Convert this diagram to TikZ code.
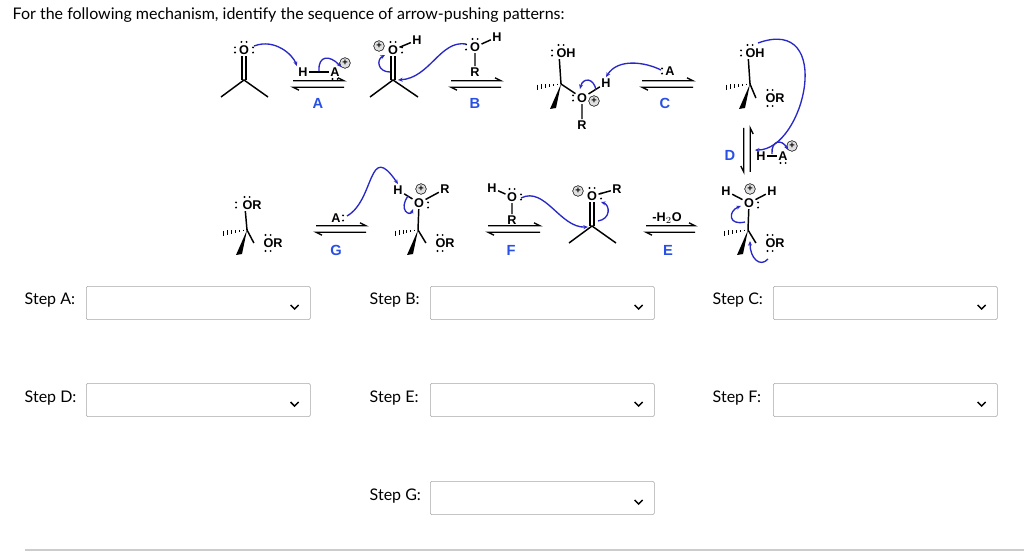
\documentclass[tikz,border=0pt]{standalone}
\usepackage{fontspec}
\setmainfont{Lato}
\newfontfamily\chemf{Liberation Sans}
\usetikzlibrary{arrows.meta,calc}
\definecolor{pb}{RGB}{40,40,200}
\definecolor{lb}{RGB}{40,80,230}
\newcommand\lph[1]{\fill[shift={(#1)}] (-2.6,0) circle (1.1) (2.6,0) circle (1.1);}
\newcommand\lpv[1]{\fill[shift={(#1)}] (0,-2.6) circle (1.1) (0,2.6) circle (1.1);}
\newcommand\eqarr[3]{%
  \coordinate (#1a) at (#2); \coordinate (#1b) at (#3);
  \draw[line width=1pt] ([yshift=2.4]#1a) -- ([yshift=2.4]#1b) -- ++(-6,-3);
  \draw[line width=1pt] ([yshift=-2.4]#1b) -- ([yshift=-2.4]#1a) -- ++(6,3);}
\begin{document}
\begin{tikzpicture}[x=0.75pt,y=-0.75pt,
  atm/.style={font=\chemf\bfseries\fontsize{9.5}{10}\selectfont,inner sep=1pt},
  lab/.style={font=\chemf\bfseries\fontsize{11}{12}\selectfont,text=lb},
  chg/.style={circle,draw,fill=gray!25,inner sep=0pt,minimum size=8pt,font=\chemf\bfseries\fontsize{7}{7}\selectfont},
  bond/.style={line width=1.1pt},
  ca/.style={pb,line width=1pt,-{Stealth[open,length=3.5pt,width=3pt]}},
  stp/.style={font=\fontsize{12}{14}\selectfont,anchor=west},
  box/.style={draw=gray!70,rounded corners=1pt,minimum width=168pt,minimum height=25pt,anchor=west}]
\useasboundingbox (0,0) rectangle (1024,552);
\fill[white] (0,0) rectangle (1024,552);
\node[anchor=west,font=\fontsize{12}{14}\selectfont] (title) at (8,15) {For the following mechanism, identify the sequence of arrow-pushing patterns:};
% ---------- molecule 1
\node[atm] (o1) at (244,50) {O}; \lph{244,42} \lpv{235,50} \lpv{253,50}
\coordinate (c1) at (244,80);
\draw[bond] ([xshift=-1.6]o1.south) -- ([xshift=-1.6]c1) ([xshift=1.6]o1.south) -- ([xshift=1.6]c1);
\draw[bond] (221,97) -- (c1) -- (268,97);
% arrow A
\eqarr{A}{293,84}{344,84}
\node[atm] (hA) at (303,72) {H}; \node[atm] (aA) at (335,72) {A}; \lph{335,79}
\draw[bond] (hA) -- (aA); \node[chg] (pA) at (345,63) {+};
\node[lab] (lA) at (318,103) {A};
% molecule 2
\node[atm] (o2) at (393,50) {O}; \lph{393,42} \lpv{402,50}
\node[chg] (p2) at (379,46) {+}; \node[atm] (h2) at (417,40) {H};
\draw[bond] (o2) -- (h2);
\coordinate (c2) at (393,80);
\draw[bond] ([xshift=-1.6]o2.south) -- ([xshift=-1.6]c2) ([xshift=1.6]o2.south) -- ([xshift=1.6]c2);
\draw[bond] (370,97) -- (c2) -- (418,97);
% arrow B
\eqarr{B}{451,84}{501,84}
\node[atm] (oB) at (475,47) {O}; \lph{475,39} \lpv{466,47}
\node[atm] (hB) at (497,37) {H}; \node[atm] (rB) at (475,72) {R};
\draw[bond] (oB) -- (hB) (oB) -- (rB);
\node[lab] (lB) at (475,103) {B};
% molecule 3
\node[atm] (o3) at (566,53) {OH}; \lph{561,45} \lpv{552,53}
\coordinate (c3) at (561,84);
\draw[bond] (c3) -- ([xshift=-5]o3.south);
\foreach \i in {0,...,6}{\draw[line width=0.6pt] ($(c3)!\i/7!(534,88)$) ++(0,-0.5-\i*0.4) -- ++(0,1+\i*0.8);}
\fill (c3) -- (550,109) -- (556,108) -- cycle;
\node[atm] (o3b) at (582,98) {O}; \lpv{573,98} \node[chg] (p3) at (594,101) {+};
\node[atm] (h3) at (606,83) {H}; \node[atm] (r3) at (582,125) {R};
\draw[bond] (c3) -- (o3b) (o3b) -- (h3) (o3b) -- (r3);
% arrow C
\eqarr{C}{642,84}{693,84}
\node[atm] (aC) at (670,71) {A}; \lpv{662,71}
\node[lab] (lC) at (665,103) {C};
% molecule 4
\node[atm] (o4) at (755,53) {OH}; \lph{750,45} \lpv{741,53}
\coordinate (c4) at (750,84);
\draw[bond] (c4) -- ([xshift=-5]o4.south);
\foreach \i in {0,...,6}{\draw[line width=0.6pt] ($(c4)!\i/7!(723,88)$) ++(0,-0.5-\i*0.4) -- ++(0,1+\i*0.8);}
\fill (c4) -- (739,109) -- (745,108) -- cycle;
\node[atm] (o4b) at (775,98) {OR}; \lph{770,90} \lph{770,106}
\draw[bond] (c4) -- ([xshift=-6]o4b.west|-o4b.center);
% arrow D vertical
\coordinate (Da) at (747,128); \coordinate (Db) at (747,172);
\draw[line width=1pt] ([xshift=-2.4]Da) -- ([xshift=-2.4]Db) -- ++(-3,-6);
\draw[line width=1pt] ([xshift=2.4]Db) -- ([xshift=2.4]Da) -- ++(3,6);
\node[lab] (lD) at (730,155) {D};
\node[atm] (hD) at (761,156) {H}; \node[atm] (aD) at (783,156) {A}; \lph{783,163}
\draw[bond] (hD) -- (aD); \node[chg] (pD) at (792,146) {+};
% molecule 5 (bottom right)
\node[atm] (o5) at (749,203) {O}; \lpv{758,205}
\node[chg] (p5) at (750,189) {+};
\node[atm] (h5a) at (726,191) {H}; \node[atm] (h5b) at (772,191) {H};
\draw[bond] (o5) -- (h5a) (o5) -- (h5b);
\coordinate (c5) at (748,230);
\draw[bond] (c5) -- (o5);
\foreach \i in {0,...,6}{\draw[line width=0.6pt] ($(c5)!\i/7!(721,234)$) ++(0,-0.5-\i*0.4) -- ++(0,1+\i*0.8);}
\fill (c5) -- (737,255) -- (743,254) -- cycle;
\node[atm] (o5b) at (775,243) {OR}; \lph{770,235} \lph{770,251}
\draw[bond] (c5) -- ([xshift=-6]o5b.west|-o5b.center);
% arrow E
\eqarr{E}{646,229}{695,229}
\node[atm] (hE) at (667,218) {-H$_2$O};
\node[lab] (lE) at (668,250) {E};
% molecule 6
\node[atm] (o6) at (592,196) {O}; \lph{592,188} \lpv{601,196}
\node[chg] (p6) at (578,191) {+}; \node[atm] (r6) at (617,189) {R};
\draw[bond] (o6) -- (r6);
\coordinate (c6) at (592,226);
\draw[bond] ([xshift=-1.6]o6.south) -- ([xshift=-1.6]c6) ([xshift=1.6]o6.south) -- ([xshift=1.6]c6);
\draw[bond] (569,243) -- (c6) -- (616,243);
% arrow F
\eqarr{F}{488,229}{540,229}
\node[atm] (hF) at (492,188) {H}; \node[atm] (oF) at (512,197) {O}; \lph{512,189} \lpv{521,197}
\node[atm] (rF) at (512,220) {R};
\draw[bond] (hF) -- (oF) (oF) -- (rF);
\node[lab] (lF) at (511,250) {F};
% molecule 7
\node[atm] (o7) at (419,203) {O}; \lpv{428,205}
\node[chg] (p7) at (421,189) {+};
\node[atm] (h7) at (398,190) {H}; \node[atm] (r7) at (445,189) {R};
\draw[bond] (o7) -- (h7) (o7) -- (r7);
\coordinate (c7) at (418,230);
\draw[bond] (c7) -- (o7);
\foreach \i in {0,...,6}{\draw[line width=0.6pt] ($(c7)!\i/7!(392,234)$) ++(0,-0.5-\i*0.4) -- ++(0,1+\i*0.8);}
\fill (c7) -- (407,255) -- (413,254) -- cycle;
\node[atm] (o7b) at (445,243) {OR}; \lph{440,235} \lph{440,251}
\draw[bond] (c7) -- ([xshift=-6]o7b.west|-o7b.center);
% arrow G
\eqarr{G}{316,229}{366,229}
\node[atm] (aG) at (336,218) {A}; \lpv{343,218}
\node[lab] (lG) at (336,250) {G};
% molecule 8
\node[atm] (o8) at (252,205) {OR}; \lph{247,197} \lpv{236,205}
\coordinate (c8) at (247,230);
\draw[bond] (c8) -- ([xshift=-5]o8.south);
\foreach \i in {0,...,6}{\draw[line width=0.6pt] ($(c8)!\i/7!(220,234)$) ++(0,-0.5-\i*0.4) -- ++(0,1+\i*0.8);}
\fill (c8) -- (236,255) -- (242,254) -- cycle;
\node[atm] (o8b) at (273,243) {OR}; \lph{268,235} \lph{268,251}
\draw[bond] (c8) -- ([xshift=-6]o8b.west|-o8b.center);
% ---------- curved arrows
\draw[ca] (254,46) .. controls (275,38) and (293,55) .. (hA.north west);
\draw[ca] (319,71) .. controls (318,55) and (330,55) .. (pA.south west);
\draw[ca] (390,72) .. controls (378,72) and (376,60) .. (385,55);
\draw[ca] (466,44) .. controls (440,40) and (430,78) .. (398,80);
\draw[ca] (596,90) .. controls (594,78) and (583,77) .. (580,89);
\draw[ca] (661,70) .. controls (645,62) and (618,58) .. (h3.north);
\draw[ca] (758,43) .. controls (835,15) and (805,150) .. (hD.north west);
\draw[ca] (772,154) .. controls (771,140) and (782,139) .. (pD.south west);
\draw[ca] (745,222) .. controls (728,226) and (728,211) .. (741,206);
\draw[ca] (768,259) .. controls (760,268) and (750,258) .. (750,241);
\draw[ca] (598,221) .. controls (611,219) and (610,205) .. (601,202);
\draw[ca] (521,198) .. controls (545,186) and (560,228) .. (588,227);
\draw[ca] (408,196) .. controls (398,210) and (410,217) .. (413,209);
\draw[ca] (347,216) .. controls (375,200) and (368,140) .. (h7.north);
% ---------- form
\node[stp] (sa) at (20,300) {Step A:}; \node[box] (ba) at (86,303) {};
\node[stp] (sb) at (365,300) {Step B:}; \node[box] (bb) at (430,303) {};
\node[stp] (sc) at (708,300) {Step C:}; \node[box] (bc) at (773,303) {};
\node[stp] (sd) at (20,398) {Step D:}; \node[box] (bd) at (86,400) {};
\node[stp] (se) at (365,398) {Step E:}; \node[box] (be) at (430,400) {};
\node[stp] (sf) at (708,398) {Step F:}; \node[box] (bf) at (773,400) {};
\node[stp] (sg) at (365,496) {Step G:}; \node[box] (bg) at (430,498) {};
\foreach \b in {ba,bb,bc,bd,be,bf,bg}{\draw[line width=1.1pt] ([xshift=-15,yshift=-1.5]\b.east) -- ++(4,4) -- ++(4,-4);}
\draw[gray!40,line width=2pt] (25,550) -- (1024,550);
\end{tikzpicture}
\end{document}
